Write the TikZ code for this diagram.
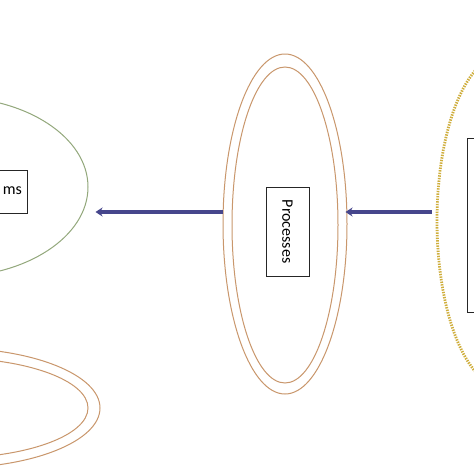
\documentclass[tikz,border=0pt]{standalone}
\usepackage{fontspec}
\setmainfont{Carlito}
\usetikzlibrary{shapes.geometric,arrows.meta}
\definecolor{sysgreen}{HTML}{93A87C}
\definecolor{tan}{HTML}{C9976C}
\definecolor{gold}{HTML}{CFAE3C}
\definecolor{arrowblue}{HTML}{46468C}
\tikzset{
  ell/.style={ellipse, inner sep=0pt, line width=1pt},
  box/.style={draw=black!85, line width=0.9pt, inner sep=0pt},
  lbl/.style={font=\fontsize{16}{18}\selectfont},
  arr/.style={draw=arrowblue, line width=3.6pt, -{Stealth[length=7pt,width=9pt]}}
}
\begin{document}
\begin{tikzpicture}[x=1pt,y=-1pt]
\clip (0,0) rectangle (474,474);
\fill[white] (0,0) rectangle (474,474);
% left green ellipse
\node[ell, draw=sysgreen, minimum width=276pt, minimum height=180pt] (sys) at (-50,187) {};
\draw[box] (-10,170) rectangle (27,213);
\node[lbl, anchor=east, inner sep=0pt] (systxt) at (22,191) {ms};
% bottom double ellipse
\node[ell, draw=tan, minimum width=300pt, minimum height=120pt] (botout) at (-50,408) {};
\node[ell, draw=tan, minimum width=276pt, minimum height=100pt] (botin) at (-50,408) {};
% processes
\node[ell, draw=tan, minimum width=124pt, minimum height=340pt] (procout) at (285,224) {};
\node[ell, draw=tan, minimum width=106pt, minimum height=316pt] (procin) at (285,225) {};
\node[box, lbl, rotate=-90, minimum width=89pt, minimum height=43pt] (proc) at (287.5,231.5) {Processes};
% right dotted ellipse
\node[ell, draw=gold, line width=2.8pt, dash pattern=on 1.4pt off 1.2pt, minimum width=130pt, minimum height=330pt] (inp) at (502,221) {};
\node[box, minimum width=40pt, minimum height=174pt] (inbox) at (487,225) {};
% arrows
\draw[arr] ([yshift=12pt]procout.west) -- ([xshift=7pt,yshift=-25pt]sys.east);
\draw[arr] ([xshift=-4pt,yshift=9pt]inp.west) -- ([xshift=-2pt,yshift=12pt]procout.east);
\end{tikzpicture}
\end{document}
